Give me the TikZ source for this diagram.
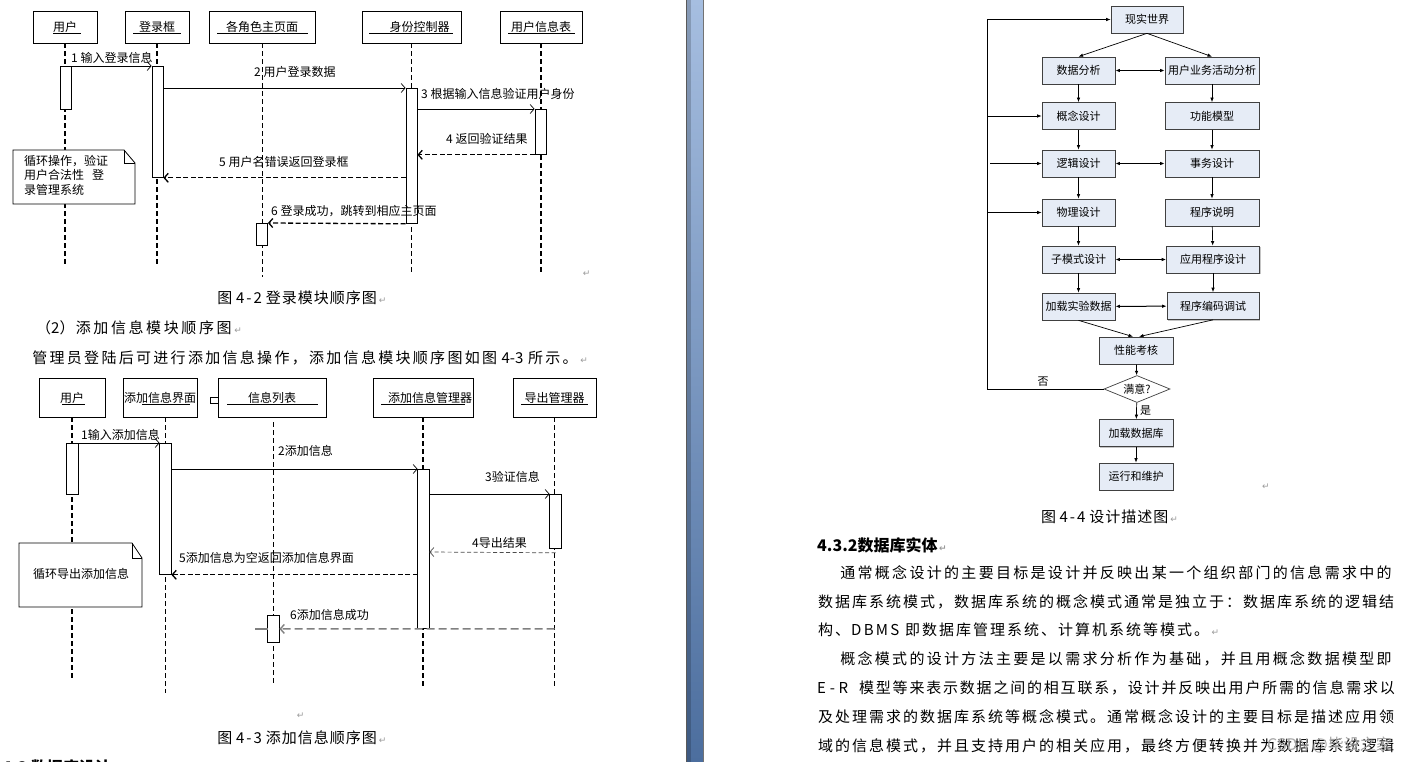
\documentclass[tikz,border=0pt]{standalone}
\usepackage{fontspec}
\setmainfont{Noto Sans CJK SC}
\newfontfamily\symfont{DejaVu Sans}
\usetikzlibrary{arrows.meta,positioning,shapes.geometric,calc,shadows}

\definecolor{boxfill}{HTML}{E6ECF6}
\definecolor{barlight}{HTML}{A6BEE0}
\definecolor{bardark}{HTML}{4C6E9E}
\definecolor{markgray}{HTML}{9A9A9A}

\newcommand\pxfont[1]{\fontsize{#1}{#1}\selectfont}
\newcommand\parmark{{\symfont\color{markgray}\pxfont{9}\,↵}}
\newcommand\gridtext[2]{\def\gridw{#1}\gridloop#2\relax}
\def\gridloop#1{\ifx#1\relax\else\makebox[\gridw][c]{#1}\expandafter\gridloop\fi}

\tikzset{
    hdr/.style={draw, line width=0.8pt, inner sep=0pt, font=\pxfont{12}},
    actbar/.style={draw, line width=0.8pt, fill=white, minimum width=11pt, inner sep=0pt, anchor=north},
    life/.style={line width=1.6pt, dash pattern=on 5pt off 3pt},
    thinlife/.style={line width=0.6pt, dash pattern=on 5pt off 3pt},
    call/.style={line width=0.7pt, -{Straight Barb[length=4pt,width=9pt]}},
    reply/.style={call, line width=1.3pt, dash pattern=on 5pt off 2.5pt},
    lbl/.style={font=\pxfont{12}, inner sep=0pt, anchor=west},
    memo/.style={draw, line width=0.8pt, fill=white},
    fbox/.style={draw=black!75, fill=boxfill, line width=0.7pt, minimum height=27pt, inner sep=0pt, font=\pxfont{11},
        drop shadow={shadow xshift=1pt, shadow yshift=-1pt, opacity=0.45}},
    farr/.style={line width=0.7pt, -{Latex[length=4.5pt,width=3.5pt]}},
    fboth/.style={line width=1pt, {Latex[length=4.5pt,width=3.5pt]}-{Latex[length=4.5pt,width=3.5pt]}},
    body/.style={font=\pxfont{15}, inner sep=0pt, anchor=west},
}

\begin{document}
\begin{tikzpicture}[x=1pt, y=-1pt]
    \useasboundingbox (0,0) rectangle (1404,762);
    \fill[white] (0,0) rectangle (1404,762);

    % figure 4-2
    \node[hdr, minimum width=64pt, minimum height=32pt] (user) at (65,27) {用户};
    \node[hdr, minimum width=64pt, minimum height=32pt] (login) at (157,27) {登录框};
    \node[hdr, minimum width=106pt, minimum height=32pt] (home) at (262,27) {各角色主页面};
    \node[hdr, minimum width=99pt, minimum height=32pt] (ctrl) at (411.5,27) {\hspace{16pt}身份控制器};
    \node[hdr, minimum width=82pt, minimum height=32pt] (utab) at (541,27) {用户信息表};
    \foreach \a/\b in {53/81, 133/181, 217/308, 369/453, 508/575}{
        \draw[line width=0.7pt] (\a,33) -- (\b,33);
    }
    \foreach \n/\e in {user/267, login/267, ctrl/273, utab/273}{
        \draw[life] (\n.south) -- (\n.south |- 0,\e);
    }
    \draw[thinlife] (home.south) -- (home.south |- 0,277);

    \node[actbar, minimum height=43pt] (ua) at (65.5,66) {};
    \node[actbar, minimum height=111pt] (la) at (157.5,66) {};
    \node[actbar, minimum height=135pt] (ca) at (411.5,88) {};
    \node[actbar, minimum height=45pt] (ta) at (540.5,109) {};
    \node[actbar, minimum height=22pt] (pa) at (262,223) {};

    \draw[call] (ua.north east) -- (la.north west);
    \draw[call] (la.east |- ca.north) -- (ca.north west);
    \draw[call] (ca.east |- ta.north) -- (ta.north west);
    \draw[reply] (ta.south west) -- (ca.east |- ta.south);
    \draw[reply] (ca.west |- la.south) -- (la.south east);
    \draw[reply] (ca.south west) -- (pa.north east);

    \node[lbl] (m1) at (71,58) {1\ 输入登录信息};
    \node[lbl] (m2) at (254,72) {2 用户登录数据};
    \node[lbl] (m3) at (421,94) {3 根据输入信息验证用户身份};
    \node[lbl] (m4) at (446,139) {4 返回验证结果};
    \node[lbl] (m5) at (219,162) {5 用户名错误返回登录框};
    \node[lbl] (m6) at (271,211) {6 登录成功，跳转到相应主页面};

    \draw[memo] (13,150) -- (124,150) -- (135,163) -- (135,204) -- (13,204) -- cycle;
    \draw[line width=0.8pt] (124,150) -- (124,163) -- (135,163);
    \node[lbl, anchor=north west, align=left, font=\fontsize{12}{14.5}\selectfont] (memo1) at (24,155)
        {循环操作，验证\\用户合法性\hspace{8pt}登\\录管理系统};

    \node[inner sep=0pt] (r1) at (586,274) {\parmark};
    \node[body] (cap42) at (217,298) {\gridtext{15.5pt}{图}\ \makebox[26pt][s]{4\hfill-\hfill2}\ \gridtext{16pt}{登录模块顺序图}\parmark};
    \node[body] (sub2) at (36,328) {（2）\gridtext{17.6pt}{添加信息模块顺序图}\parmark};
    \node[body] (intro) at (31,358) {\gridtext{17.3pt}{管理员登陆后可进行添加信息操作，添加信息模块顺序图如图}\ 4-3\ \gridtext{17.3pt}{所示。}\parmark};

    % figure 4-3
    \node[hdr, minimum width=66pt, minimum height=39pt] (user2) at (72,397.5) {用户};
    \node[hdr, minimum width=74pt, minimum height=39pt] (form) at (160,397.5) {添加信息界面};
    \node[hdr, minimum width=108pt, minimum height=39pt] (list) at (272,397.5) {信息列表};
    \node[hdr, minimum width=100pt, minimum height=39pt] (mgr) at (423,397.5) {\hspace{14pt}添加信息管理器};
    \node[hdr, minimum width=83pt, minimum height=39pt] (expo) at (554.5,397.5) {导出管理器};
    \draw[line width=0.8pt] (210,397) rectangle (218,403);
    \foreach \a/\b in {62/85, 142/190, 227/318, 381/465, 521/588}{
        \draw[line width=0.7pt] (\a,404) -- (\b,404);
    }

    \node[actbar, minimum height=51pt] (ub) at (72.5,443) {};
    \node[actbar, minimum height=131pt] (ib) at (165.5,443) {};
    \node[actbar, minimum height=159pt] (mb) at (423.5,469) {};
    \node[actbar, minimum height=54pt] (eb) at (555.5,494) {};
    \node[actbar, minimum height=27pt] (lb) at (273.5,615) {};

    \draw[life] (user2.south) -- (user2.south |- 0,679);
    \draw[life] (ib.north |- form.south) -- (ib.north |- 0,693);
    \draw[thinlife] (lb.north |- 0,422) -- (lb.north |- 0,685);
    \draw[life] (mgr.south) -- (mgr.south |- 0,688);
    \draw[life] (expo.south) -- (expo.south |- 0,688);
    \foreach \n in {ub, ib, mb, eb, lb}{
        \draw[line width=0.8pt, fill=white] (\n.north west) rectangle (\n.south east);
    }

    \draw[call] (ub.north east) -- (ib.north west);
    \draw[call] (ib.east |- mb.north) -- (mb.north west);
    \draw[call] (mb.east |- eb.north) -- (eb.north west);
    \draw[call, black!70, dash pattern=on 4pt off 2.5pt] ([yshift=-4pt]eb.south) -- (mb.east |- 0,552);
    \draw[reply] (mb.west |- ib.south) -- (ib.south east);
    \draw[call, gray, line width=1.4pt, dash pattern=on 8pt off 4pt] (expo.south |- mb.south) -- (lb.east);
    \draw[gray, line width=1.2pt] (lb.west) -- ++(-13,0);

    \node[lbl] (k1) at (81,435) {1输入添加信息};
    \node[lbl] (k2) at (278,451) {2添加信息};
    \node[lbl] (k3) at (485,477) {3验证信息};
    \node[lbl] (k4) at (472,543) {4导出结果};
    \node[lbl] (k5) at (179,558) {5添加信息为空返回添加信息界面};
    \node[lbl] (k6) at (290,615) {6添加信息成功};

    \draw[memo] (19,543) -- (132,543) -- (142,558) -- (142,607) -- (19,607) -- cycle;
    \draw[line width=0.8pt] (132,543) -- (132,558) -- (142,558);
    \node[lbl] (memo2) at (33,574) {循环导出添加信息};

    \node[inner sep=0pt] (r2) at (300,716) {\parmark};
    \node[body] (cap43) at (217,738) {\gridtext{15.5pt}{图}\ \makebox[26pt][s]{4\hfill-\hfill3}\ \gridtext{16pt}{添加信息顺序图}\parmark};
    \node[body, font=\pxfont{16}\bfseries] (sec43) at (2,767) {4.3\ 数据库设计};

    % page gap
    \shade[top color=barlight, bottom color=bardark] (686,0) rectangle (703,762);
    \fill[black, opacity=0.18] (686,0) rectangle (691,762);
    \draw[black!65, line width=0.8pt] (686,0) -- (686,762);
    \draw[black!55, line width=0.6pt] (703,0) -- (703,762);

    % figure 4-4
    \node[fbox, minimum width=72pt] (world) at (1147,19.5) {现实世界};
    \node[fbox, minimum width=73pt] (sjfx) at (1078.5,70.5) {数据分析};
    \node[fbox, minimum width=94pt] (ywfx) at (1212,70.5) {用户业务活动分析};
    \node[fbox, minimum width=73pt] (gnsj) at (1078.5,116) {概念设计};
    \node[fbox, minimum width=94pt] (gnmx) at (1212,116) {功能模型};
    \node[fbox, minimum width=73pt] (ljsj) at (1078.5,163.5) {逻辑设计};
    \node[fbox, minimum width=94pt] (swsj) at (1212,163.5) {事务设计};
    \node[fbox, minimum width=73pt] (wlsj) at (1078.5,212.5) {物理设计};
    \node[fbox, minimum width=94pt] (cxsm) at (1212,212.5) {程序说明};
    \node[fbox, minimum width=73pt] (zmsj) at (1078.5,259.5) {子模式设计};
    \node[fbox, minimum width=93pt] (yycx) at (1213,259.5) {应用程序设计};
    \node[fbox, minimum width=73pt] (jzsy) at (1078.5,306.5) {加载实验数据};
    \node[fbox, minimum width=92pt] (cxbm) at (1213,306) {程序编码调试};
    \node[fbox, minimum width=74pt] (xnkh) at (1136,350.5) {性能考核};
    \node[diamond, draw=black!75, fill=white, line width=0.7pt, aspect=2.5, minimum width=66pt, minimum height=27pt,
        inner sep=0pt, font=\pxfont{11}] (myi) at (1137,389) {满意?};
    \node[fbox, minimum width=74pt] (jzsjk) at (1136,433) {加载数据库};
    \node[fbox, minimum width=74pt] (yxwh) at (1136,476.5) {运行和维护};

    \draw[farr] (world.south) -- (sjfx.north);
    \draw[farr] (world.south) -- (ywfx.north);
    \foreach \a/\b in {sjfx/gnsj, gnsj/ljsj, ljsj/wlsj, wlsj/zmsj, zmsj/jzsy,
                       ywfx/gnmx, gnmx/swsj, swsj/cxsm, cxsm/yycx, yycx/cxbm,
                       xnkh/myi, myi/jzsjk, jzsjk/yxwh}{
        \draw[farr] (\a) -- (\b);
    }
    \foreach \a/\b in {sjfx/ywfx, ljsj/swsj, zmsj/yycx, jzsy/cxbm}{
        \draw[fboth] (\a) -- (\b);
    }
    \draw[farr] (jzsy.south) -- ([xshift=-3pt]xnkh.north);
    \draw[farr] (cxbm.south) -- ([xshift=3pt]xnkh.north);

    \coordinate (back) at (987,389);
    \draw[line width=0.7pt] (myi.west) -- (back);
    \draw[farr] (back) |- (world.west);
    \draw[farr] (back |- gnsj.west) -- (gnsj.west);
    \draw[farr] ([xshift=3pt]back |- ljsj.west) -- (ljsj.west);
    \draw[farr] (back |- wlsj.west) -- (wlsj.west);
    \node[font=\pxfont{11}, inner sep=0pt] (no) at (1043,382) {否};
    \node[font=\pxfont{11}, inner sep=0pt, anchor=west] (yes) at (1140,411) {是};

    \node[inner sep=0pt] (r3) at (1265,487) {\parmark};
    \node[body] (cap44) at (1041,517) {\gridtext{15pt}{图}\ \makebox[26pt][s]{4\hfill-\hfill4}\ \gridtext{16pt}{设计描述图}\parmark};

    % text 4.3.2
    \node[body, font=\pxfont{16}\bfseries] (sec432) at (817,545) {4.3.2数据库实体\parmark};
    \node[body] (p1) at (839,573) {\gridtext{17.3pt}{通常概念设计的主要目标是设计并反映出某一个组织部门的信息需求中的}};
    \node[body] (p2) at (817,602) {\gridtext{17pt}{数据库系统模式，数据库系统的概念模式通常是独立于：数据库系统的逻辑结}};
    \node[body] (p3) at (817,630) {\gridtext{17pt}{构、}\makebox[48pt][s]{D\hfill B\hfill M\hfill S}\hspace{5pt}\gridtext{17pt}{即数据库管理系统、计算机系统等模式。}\parmark};
    \node[body] (p4) at (839,659) {\gridtext{17.3pt}{概念模式的设计方法主要是以需求分析作为基础，并且用概念数据模型即}};
    \node[body] (p5) at (817,688) {\makebox[31pt][s]{E\hfill-\hfill R}\hspace{10pt}\gridtext{16.8pt}{模型等来表示数据之间的相互联系，设计并反映出用户所需的信息需求以}};
    \node[body] (p6) at (817,717) {\gridtext{17pt}{及处理需求的数据库系统等概念模式。通常概念设计的主要目标是描述应用领}};
    \node[body] (p7) at (817,746) {\gridtext{17pt}{域的信息模式，并且支持用户的相关应用，最终方便转换并为数据库系统逻辑}};
    \node[body, font=\pxfont{16}, text=black!35, anchor=east] (mark) at (1392,745) {CSDN @毕设之家};
\end{tikzpicture}
\end{document}
